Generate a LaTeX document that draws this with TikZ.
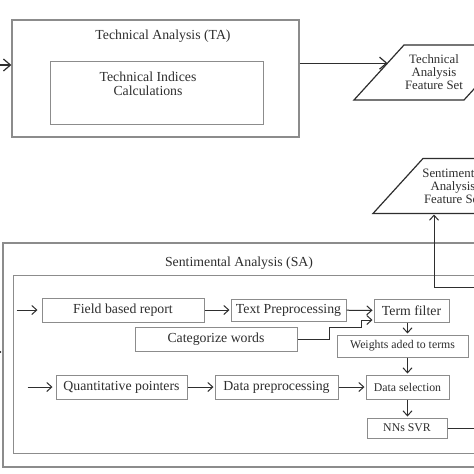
\documentclass[tikz,border=0pt]{standalone}
\usepackage{fontspec}
\setmainfont{Liberation Serif}
\usetikzlibrary{positioning,arrows.meta,calc}
\newcommand{\boxcol}{black!45}
\newcommand{\inkcol}{black!82}
\tikzset{
    frame/.style = { draw=\boxcol,line width=1.3pt,inner sep=0, },
    stage/.style = { draw=\boxcol,line width=1pt,inner sep=0,text=\inkcol,font=\fontsize{13.8}{14}\selectfont, },
    wee/.style = { stage,font=\fontsize{11.8}{13}\selectfont, },
    write/.style = { text=\inkcol,inner sep=0,align=center,font=\fontsize{13.8}{14}\selectfont, },
    setlabel/.style = { write,font=\fontsize{12.8}{13}\selectfont, },
    setline/.style = { draw=\inkcol,line width=1.2pt, },
    arrow/.style = { -{Straight Barb[length=5pt,width=9pt]},draw=\inkcol,line width=1pt,shorten >=1pt, },
    bigarrow/.style = { arrow,-{Straight Barb[length=7pt,width=12pt]},line width=1.2pt,shorten >=0pt, },
}
\newcommand{\featureset}[4]{
    \node [setlabel] (#1) at (#2,#3) {#4};
    \coordinate (#1bl) at (#2-80,#3+27.5);
    \coordinate (#1tl) at (#2-30,#3-27.5);
    \draw [setline] (#1bl) -- (#1tl) -- (#2+80,#3-27.5) -- (#2+30,#3+27.5) -- cycle;
}

\begin{document}
\begin{tikzpicture}[x=1pt,y=-1pt]

    \clip (0,0) rectangle (474,474);
    \fill [white] (0,0) rectangle (474,474);

    % technical analysis
    \node [frame,minimum width=287pt,minimum height=117pt] (ta) at (155.5,78.5) {};
    \node [write] (tatitle) at (163,36) {Technical Analysis (TA)};
    \node [stage,minimum width=213pt,minimum height=63pt] (calc) at (156.5,92.5) {};
    \node [write] (calctext) at (148,84) {Technical Indices\\Calculations};
    \featureset{taset}{434}{72.5}{Technical\\Analysis\\Feature Set}

    \coordinate (tafrom) at (-20,65);
    \coordinate (tain) at ($(tasetbl)!0.67!(tasettl)$);
    \draw [bigarrow] (tafrom) -- (tafrom -| ta.west);
    \draw [bigarrow] (ta.east |- tain) -- (tain);

    % sentimental analysis
    \node [frame,minimum width=497pt,minimum height=224pt] (sa) at (251.5,355) {};
    \node [write] (satitle) at (239,263) {Sentimental Analysis (SA)};
    \node [stage,minimum width=477pt,minimum height=178pt] (sain) at (251.5,364) {};
    \featureset{saset}{453}{186}{Sentimental\\Analysis\\Feature Set}

    \node [stage,minimum width=162pt,minimum height=24pt] (fbr) at (123,310) {Field based report};
    \node [stage,minimum width=115pt,minimum height=22pt] (tp) at (288.5,310) {Text Preprocessing};
    \node [stage,minimum width=75pt,minimum height=23pt] (tf) at (411.5,310.5) {Term filter};
    \node [stage,minimum width=162pt,minimum height=24pt] (cw) at (216,339) {Categorize words};
    \node [wee,minimum width=131pt,minimum height=22pt] (wt) at (402.5,346) {Weights aded to terms};
    \node [stage,minimum width=131pt,minimum height=24pt] (qp) at (121.5,387) {Quantitative pointers};
    \node [stage,minimum width=123pt,minimum height=24pt] (dp) at (276.5,387) {Data preprocessing};
    \node [wee,minimum width=83pt,minimum height=24pt] (ds) at (407.5,387) {Data selection};
    \node [wee,minimum width=80pt,minimum height=20pt] (svr) at (407,428) {NNs SVR};

    \coordinate (safrom) at (-20,352);
    \coordinate (kink) at (329,327);
    \coordinate (turn) at (434,287);
    \draw [arrow] (safrom) -- (safrom -| sa.west);
    \draw [arrow,shorten >=4pt] (sain.west |- fbr) ++(4,0) -- (fbr);
    \draw [arrow] (fbr) -- (tp);
    \draw [arrow] (tp) -- (tf);
    \draw [arrow] (cw.east) -| (kink) -| ([xshift=-12pt,yshift=-9.5pt]tf.west) -- ([yshift=-9.5pt]tf.west);
    \draw [arrow] (tf.south -| ds.north) -- (ds.north |- wt.north);
    \draw [arrow] (ds.north |- wt.south) -- (ds.north);
    \draw [arrow,shorten >=3pt] (sain.west |- qp) ++(15,0) -- (qp);
    \draw [arrow] (qp) -- (dp);
    \draw [arrow] (dp) -- (ds);
    \draw [arrow] (ds.south) -- (ds.south |- svr.north);
    \draw [arrow] (svr.east) -- ++(50,0) |- (turn) -- (turn |- sasetbl);

\end{tikzpicture}
\end{document}
